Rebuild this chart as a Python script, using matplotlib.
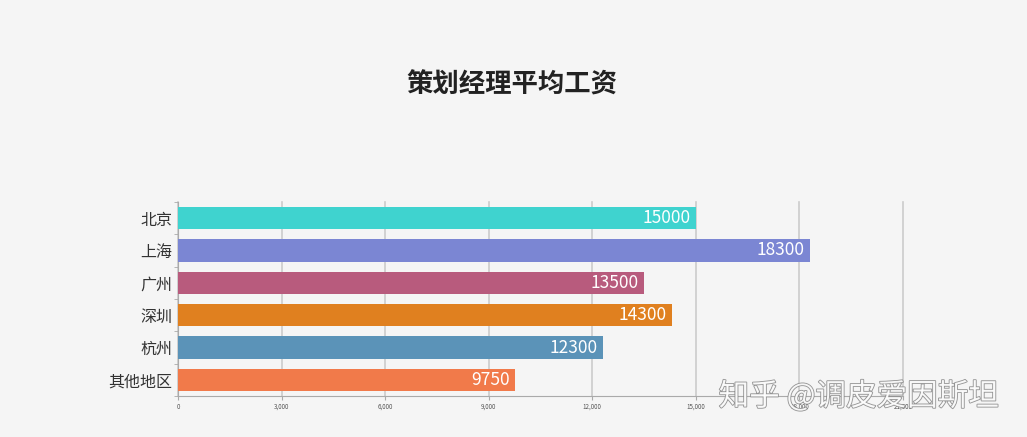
import matplotlib.pyplot as plt
import matplotlib.patheffects as pe
from matplotlib.ticker import FuncFormatter, MultipleLocator

plt.rcParams['font.family'] = ['Noto Sans CJK SC', 'DejaVu Sans']

cities = ['北京', '上海', '广州', '深圳', '杭州', '其他地区']
salaries = [15000, 18300, 13500, 14300, 12300, 9750]
colors = ['#3fd3cf', '#7b86d3', '#b85b7d', '#e0801f', '#5b93b8', '#f17a4a']

bg = '#f5f5f5'
fig = plt.figure(figsize=(10.27, 4.37), dpi=100, facecolor=bg)
ax = fig.add_axes([0.1733, 0.0938, 0.7060, 0.444], facecolor=bg)

ypos = list(range(len(cities)))
ax.barh(ypos, salaries, height=0.7, color=colors, zorder=3)
for y, v in zip(ypos, salaries):
    ax.text(v - 150, y, str(v), color='white', fontsize=12.5,
            ha='right', va='center', zorder=4)

ax.set_ylim(len(cities) - 0.5, -0.5)
ax.set_xlim(0, 21000)
ax.set_yticks(ypos)
ax.set_yticklabels(cities, fontsize=11.5, color='#333333')
ax.yaxis.set_minor_locator(MultipleLocator(1, offset=0.5))
ax.tick_params(axis='y', which='major', length=0, pad=4)
ax.tick_params(axis='y', which='minor', length=3, color='#aaaaaa')

ax.xaxis.set_major_locator(MultipleLocator(3000))
ax.xaxis.set_major_formatter(FuncFormatter(lambda x, p: f'{int(x):,}'))
ax.tick_params(axis='x', labelsize=4.5, labelcolor='#555555', length=3,
               color='#aaaaaa', pad=2)
ax.grid(axis='x', color='#cccccc', linewidth=1.2, zorder=0)
for gl in ax.get_xgridlines():
    gl.set_clip_on(False)

for s in ['top', 'right']:
    ax.spines[s].set_visible(False)
for s in ['left', 'bottom']:
    ax.spines[s].set_color('#aaaaaa')

fig.text(0.4985, 0.805, '策划经理平均工资', fontsize=19, fontweight='black',
         ha='center', va='center', color='#222222')

# watermark, drawn over the bottom-right tick labels as in the source image
wm = fig.text(0.836, 0.093, '知乎 @调皮爱因斯坦', fontsize=22, color='white',
              ha='center', va='center', alpha=0.9)
wm.set_path_effects([pe.withStroke(linewidth=1.2, foreground='#888888')])

fig.savefig('out.png', dpi=100, facecolor=bg)
